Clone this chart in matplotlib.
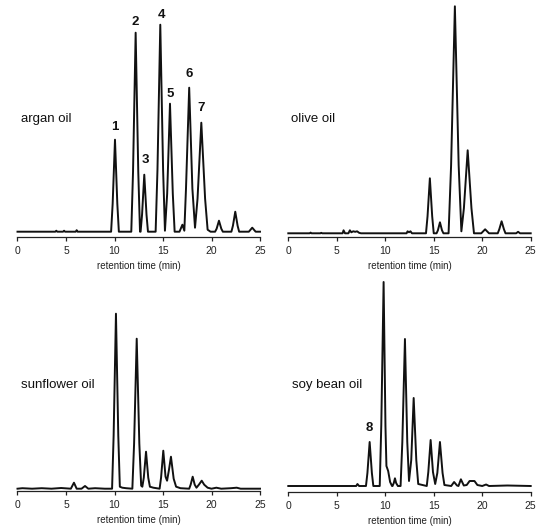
import matplotlib
matplotlib.use("Agg")
import matplotlib.pyplot as plt

plt.rcParams['font.family'] = ['Liberation Sans', 'DejaVu Sans']

# ---------------- data (retention time in min, detector signal in a.u.) ----------------
argan_t = [0, 3.9, 4.0, 4.1, 4.7, 4.8, 4.9, 6.0, 6.1, 6.2,
           9.65, 9.81, 10.05, 10.29, 10.45,
           11.73, 11.91, 12.18, 12.45, 12.63,
           12.69, 12.84, 13.07, 13.3, 13.45,
           14.24, 14.43, 14.72, 15.01, 15.2,
           15.43, 15.72, 16.01, 16.2,
           16.7, 17.0, 17.2,
           17.37, 17.7, 18.03, 18.3,
           18.56, 18.95, 19.34, 19.6, 19.9,
           20.37, 20.53, 20.77, 21.01, 21.17,
           22.05, 22.21, 22.45, 22.69, 22.85,
           23.85, 24.2, 24.55, 25]
argan_y = [0, 0, 1, 0, 0, 1, 0, 0, 1.5, 0,
           0, 28, 92, 28, 0,
           0, 60, 199, 60, 0,
           0, 17, 57, 17, 0,
           0, 62, 207, 62, 1,
           38, 128, 38, 0,
           0, 7, 1,
           43, 144, 43, 4,
           33, 109, 33, 2, 0,
           0, 3, 11, 3, 0,
           0, 6, 20, 6, 0,
           0, 4, 0, 0]

olive_t = [0, 2.2, 2.3, 2.4, 3.3, 3.4, 3.5, 5.6, 5.7, 5.85, 6.2, 6.35, 6.5, 6.7, 6.9, 7.1, 7.3, 7.5,
           12.2, 12.3, 12.45, 12.6, 12.75,
           14.2, 14.36, 14.6, 14.84, 15.0,
           15.29, 15.43, 15.64, 15.85, 16.0,
           16.53, 16.79, 17.18, 17.57, 17.85,
           18.11, 18.5, 18.89, 19.15,
           19.9, 20.3, 20.7,
           21.6, 21.76, 22.0, 22.24, 22.4,
           23.5, 23.7, 23.9, 25]
olive_y = [0, 0, 0.7, 0, 0, 0.5, 0, 0, 3, 0, 0, 3, 1, 2, 1.5, 2, 0.5, 0,
           0, 2, 1, 2, 0,
           0, 17, 55, 17, 0,
           0, 3, 11, 3, 0,
           0, 68, 227, 68, 2,
           25, 83, 25, 0,
           0, 4, 0,
           0, 4, 12, 4, 0,
           0, 1.5, 0, 0]

sunflower_t = [0, 0.5, 1.5, 2.5, 3.5, 4.5, 5.5, 5.82, 6.1, 6.6, 6.96, 7.3, 8.0, 9.0,
               9.75, 9.91, 10.15, 10.39, 10.55, 10.8, 11.2,
               11.84, 12.02, 12.29, 12.56, 12.75,
               12.87, 13.02, 13.25, 13.48, 13.65, 14.0,
               14.65, 14.8, 15.03, 15.26, 15.42,
               15.6, 15.82, 16.1, 16.35, 16.8,
               17.7, 17.85, 18.06, 18.27, 18.45,
               18.7, 18.99, 19.25, 19.6, 20.0, 20.5, 21.0, 22.0, 22.6, 23.0, 25]
sunflower_y = [0, 0.5, 0, 0.5, 0, 0.7, 0, 6, 0, 0, 2.7, 0, 0.5, 0,
               0, 53, 175, 53, 2, 1, 0.5,
               0, 45, 150, 45, 3,
               2, 11, 37, 11, 2, 1,
               0, 11, 38, 12, 8,
               18, 32, 10, 2, 0.5,
               0, 4, 12, 4, 1,
               4, 8, 4, 1, 0, 1, 0, 0.5, 1, 0, 0]

soy_t = [0, 7.0, 7.13, 7.3,
         8.01, 8.16, 8.39, 8.62, 8.77,
         9.43, 9.59, 9.83, 10.02, 10.12, 10.3, 10.5, 10.7,
         10.75, 10.88, 11.0, 11.12, 11.3,
         11.58, 11.76, 12.03, 12.27, 12.45,
         12.68, 12.93, 13.2, 13.4,
         14.28, 14.44, 14.68, 14.92, 15.15,
         15.37, 15.64, 15.91, 16.1,
         16.8, 17.1, 17.4, 17.55, 17.8, 18.1, 18.4, 18.7, 19.2, 19.5,
         20.0, 20.4, 20.7, 22.6, 25]
soy_y = [0, 0, 2, 0,
         0, 13, 44, 13, 0,
         0, 61, 204, 60, 20, 15, 4, 0,
         0, 3, 7.7, 3, 0,
         0, 44, 147, 44, 5,
         26, 88, 26, 2,
         0, 14, 46, 14, 2,
         13, 44, 13, 1,
         0, 4, 0.5, 0, 6.7, 0.5, 1, 5, 5, 1,
         0, 1.5, 0, 0.5, 0]

sample_names = ["argan oil", "olive oil", "sunflower oil", "soy bean oil"]
xticks = [0, 5, 10, 15, 20, 25]
xlabel = "retention time (min)"

argan_labels = ["1", "2", "3", "4", "5", "6", "7"]
argan_label_t = [10.05, 12.11, 13.2, 14.8, 15.72, 17.71, 18.95]
soy_labels = ["8"]
soy_label_t = [8.39]

# ---------------- layout ----------------
W, H = 550, 532
fig = plt.figure(figsize=(W / 100, H / 100), dpi=100)

def px_axes(left, axis_y, width, top):
    return fig.add_axes([left / W, (H - axis_y) / H, width / W, (axis_y - top) / H])

panels = [
    dict(left=17.5, axis=237, width=242.5, top=20, off=5.3, t=argan_t, y=argan_y, name_xy=(21, 119)),
    dict(left=288.3, axis=237, width=242.4, top=4, off=3.7, t=olive_t, y=olive_y, name_xy=(291, 119)),
    dict(left=17.5, axis=491, width=242.5, top=300, off=2.3, t=sunflower_t, y=sunflower_y, name_xy=(21, 385)),
    dict(left=288.3, axis=492, width=242.4, top=278, off=6.0, t=soy_t, y=soy_y, name_xy=(291.5, 385)),
]

axes = []
for p, name in zip(panels, sample_names):
    ax = px_axes(p['left'], p['axis'], p['width'], p['top'])
    ax.plot(p['t'], p['y'], color='#111111', lw=1.4, solid_joinstyle='round', clip_on=False)
    ax.set_xlim(0, 25)
    ax.set_ylim(-p['off'], p['axis'] - p['top'] - p['off'])
    for s in ['left', 'right', 'top']:
        ax.spines[s].set_visible(False)
    ax.spines['bottom'].set_linewidth(0.9)
    ax.spines['bottom'].set_color('#222222')
    ax.set_yticks([])
    ax.set_xticks(xticks)
    ax.tick_params(axis='x', direction='out', length=3, width=0.9, pad=3.5,
                   labelsize=7.5, colors='#222222')
    ax.set_xlabel(xlabel, fontsize=7, labelpad=3.5, color='#222222')
    ax.patch.set_alpha(0)
    fig.text(p['name_xy'][0] / W, 1 - p['name_xy'][1] / H, name,
             fontsize=9.5, ha='left', va='center', color='#111111')
    axes.append(ax)

argan_offsets = [13, 11, 15, 10, 10, 14, 15]
for lab, tt, off in zip(argan_labels, argan_label_t, argan_offsets):
    peak = max(yy for xx, yy in zip(argan_t, argan_y) if abs(xx - tt) < 0.2)
    axes[0].text(tt, peak + off, lab, fontsize=9.5, fontweight='bold',
                 ha='center', va='center', color='#111111')
for lab, tt in zip(soy_labels, soy_label_t):
    peak = max(yy for xx, yy in zip(soy_t, soy_y) if abs(xx - tt) < 0.2)
    axes[3].text(tt, peak + 14, lab, fontsize=9.5, fontweight='bold',
                 ha='center', va='center', color='#111111')

fig.savefig("out.png", dpi=100)
